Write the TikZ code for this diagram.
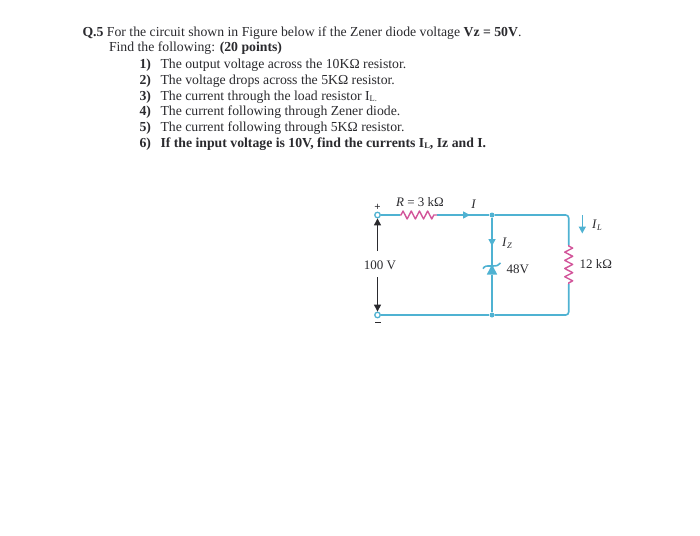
\documentclass[tikz,border=0pt]{standalone}
\usepackage{fontspec}
\setmainfont{Liberation Serif}
\usetikzlibrary{arrows.meta,decorations.pathmorphing}
\definecolor{wire}{HTML}{4FB2D2}
\definecolor{res}{HTML}{D2559A}
\definecolor{ink}{HTML}{2A2A2E}
\tikzset{
 x=1pt,y=-1pt,
 line/.style={anchor=base west,inner sep=0pt,outer sep=0pt,text=ink,font=\fontsize{13.75}{15}\selectfont},
 lab/.style={inner sep=0pt,outer sep=0pt,text=ink,font=\fontsize{13}{14}\selectfont},
 wirepath/.style={draw=wire,line width=1.6pt},
 term/.style={circle,draw=wire,fill=white,line width=1.3pt,minimum size=5.5pt,inner sep=0pt},
 dotn/.style={circle,fill=wire,minimum size=5pt,inner sep=0pt},
 resistor/.style={draw=res,line width=1.4pt,line join=round,decorate,decoration={zigzag,segment length=8.2pt,amplitude=4pt,pre length=1pt,post length=1pt}},
 volt/.style={draw=ink,line width=1pt,-{Triangle[length=7pt,width=7pt]}},
 curarrow/.style={draw=wire,line width=1.6pt,-{Triangle[length=7pt,width=7pt]}},
}
\begin{document}
\begin{tikzpicture}
\useasboundingbox (0,0) rectangle (700,535);
\node[line] (t1a) at (82.5,36.5) {\textbf{Q.5} For the circuit shown in Figure below if the Zener diode voltage \textbf{Vz = 50V}.};
\node[line] (t2) at (109,52) {Find the following: \textbf{(20 points)}};
\node[line] (n1) at (139.5,68) {\textbf{1)}};
\node[line] (l1) at (160.5,68) {The output voltage across the 10KΩ resistor.};
\node[line] (n2) at (139.5,84) {\textbf{2)}};
\node[line] (l2) at (160.5,84) {The voltage drops across the 5KΩ resistor.};
\node[line] (n3) at (139.5,100) {\textbf{3)}};
\node[line] (l3) at (160.5,100) {The current through the load resistor I\raisebox{-0.25ex}{\fontsize{8.5}{9}\selectfont L.}};
\node[line] (n4) at (139.5,115.5) {\textbf{4)}};
\node[line] (l4) at (160.5,115.5) {The current following through Zener diode.};
\node[line] (n5) at (139.5,131.5) {\textbf{5)}};
\node[line] (l5) at (160.5,131.5) {The current following through 5KΩ resistor.};
\node[line] (n6) at (139.5,147) {\textbf{6)}};
\node[line] (l6) at (160.5,147) {\textbf{If the input voltage is 10V, find the currents I\raisebox{-0.25ex}{\fontsize{8.5}{9}\selectfont L}, Iz and I.}};

\coordinate (ra) at (400,215);
\coordinate (rb) at (437,215);
\coordinate (tipi) at (470,215);
\coordinate (tr) at (568.7,215);
\coordinate (rra) at (568.7,245);
\coordinate (rrb) at (568.7,284);
\coordinate (br) at (568.7,315);
\node[dotn] (jt) at (492,215) {};
\node[dotn] (jb) at (492,315) {};
\coordinate (tipz) at (492,246);
\coordinate (zt) at (492,266);
\coordinate (zb) at (492,274.5);

\node[term] (tp) at (377.5,215) {};
\node[term] (tm) at (377.5,315) {};

\draw[wirepath] (tp) -- (ra);
\draw[wirepath] (rb) -- (jt);
\draw[curarrow] (rb) -- (tipi);
\draw[wirepath,rounded corners=3pt] (jt) -- (tr) -- (rra);
\draw[wirepath,rounded corners=3pt] (rrb) -- (br) -- (jb);
\draw[wirepath] (jb) -- (tm);
\draw[wirepath] (jt) -- (zt);
\draw[curarrow] (jt) -- (tipz);
\draw[wirepath] (zb) -- (jb);
\draw[resistor] (ra) -- (rb);
\draw[resistor] (rra) -- (rrb);
\fill[wire] (492,264.5) -- (486.8,274.5) -- (497.2,274.5) -- cycle;
\draw[wirepath] (483,268.7) .. controls (485,265.5) and (486,266) .. (492,266) .. controls (497.5,266) and (498,265.5) .. (500.5,263);

\coordinate (va) at (377.5,251);
\coordinate (vb) at (377.5,277);
\draw[volt] (va) -- (tp);
\draw[volt] (vb) -- (tm);

\coordinate (ia) at (582.3,215);
\coordinate (ib) at (582.3,233.5);
\draw[curarrow] (ia) -- (ib);

\node[lab,font=\bfseries\fontsize{11}{12}\selectfont] (plus) at (377.5,207) {+};
\node[fill=ink,minimum width=6pt,minimum height=1.3pt,inner sep=0pt] (minus) at (377.5,322.5) {};
\node[lab] (vlab) at (380,265) {100 V};
\node[lab] (rlab) at (420,202) {\textit{R} = 3 kΩ};
\node[lab] (ilab) at (473.7,204.5) {\textit{I}};
\node[lab] (izlab) at (507,243.5) {\textit{I}\raisebox{-0.4ex}{\fontsize{8.5}{9}\selectfont\textit{Z}}};
\node[lab] (zv) at (517.7,269) {48V};
\node[lab] (illab) at (597,225) {\textit{I}\raisebox{-0.4ex}{\fontsize{8.5}{9}\selectfont\textit{L}}};
\node[lab] (rl) at (595.7,264) {12 kΩ};
\end{tikzpicture}
\end{document}
